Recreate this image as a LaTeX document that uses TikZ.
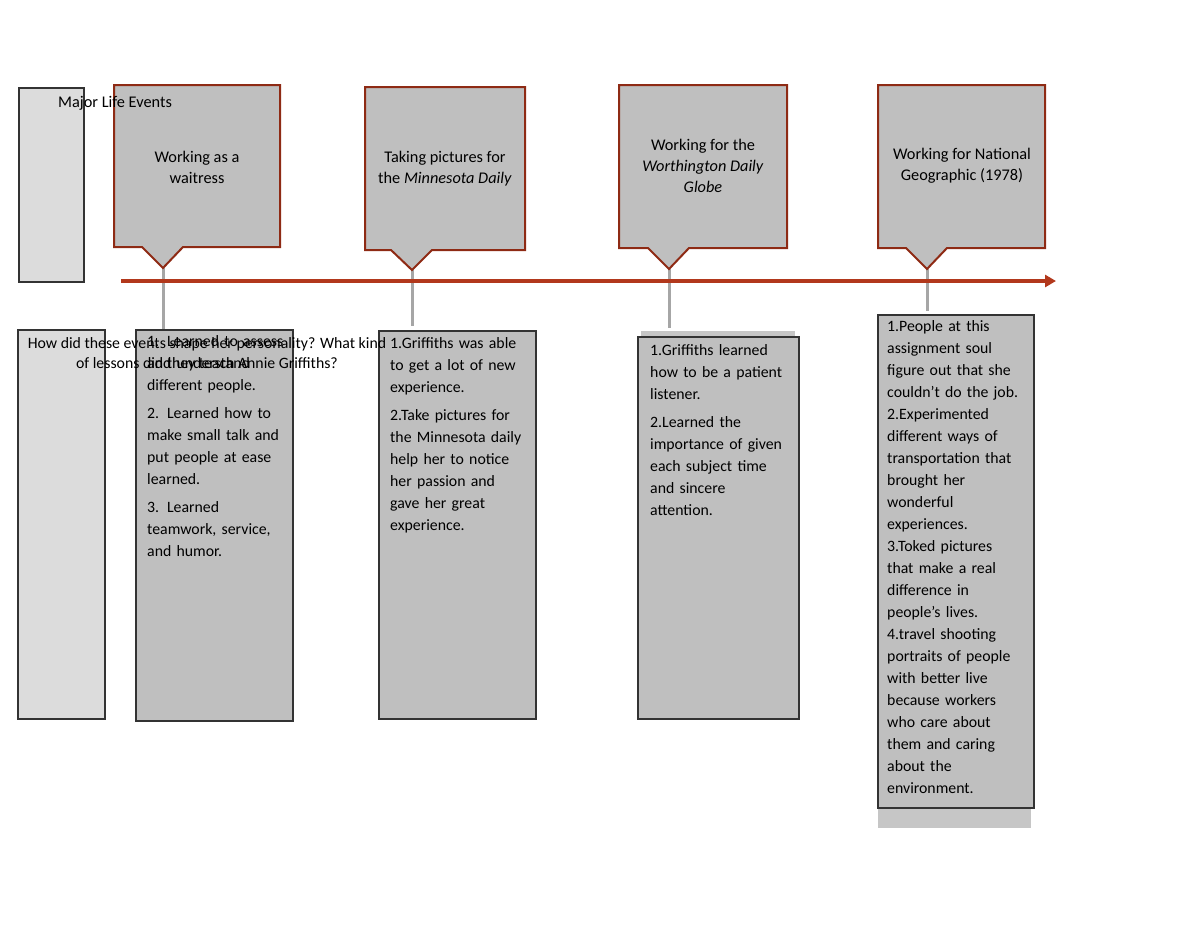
\documentclass[tikz,border=0pt]{standalone}
\usepackage{fontspec}
\setmainfont{Carlito}
\usetikzlibrary{arrows.meta}
\definecolor{callfill}{HTML}{BFBFBF}
\definecolor{callline}{HTML}{8E2A14}
\definecolor{axis}{HTML}{B2381C}
\definecolor{lightbox}{HTML}{DCDCDC}
\definecolor{stem}{HTML}{A6A6A6}
\begin{document}
\begin{tikzpicture}[x=1pt,y=-1pt,
  callout/.style={fill=callfill,draw=callline,line width=2pt,line join=miter},
  bodybox/.style={fill=callfill,draw=black!80,line width=1.3pt},
  sidebox/.style={fill=lightbox,draw=black!80,line width=1.3pt},
  stemline/.style={draw=stem,line width=3pt},
  ctitle/.style={align=center,font=\fontsize{16.3}{21}\selectfont,inner sep=0pt},
  btext/.style={align=left,anchor=north west,text width=150pt,font=\fontsize{15.8}{22}\selectfont,inner sep=0pt}]
\useasboundingbox (0,0) rectangle (1200,927);
% side boxes
\draw[sidebox] (19,88) rectangle (84,282);
\draw[sidebox] (18,330) rectangle (105,719);
% stems
\coordinate (t1) at (163,268); \coordinate (t2) at (412,270);
\coordinate (t3) at (669,269); \coordinate (t4) at (927,269);
\coordinate (s1) at (163,330); \coordinate (s2) at (412,326);
\coordinate (s3) at (669,328); \coordinate (s4) at (927,311);
\draw[stemline] (t1)--(s1); \draw[stemline] (t2)--(s2);
\draw[stemline] (t3)--(s3); \draw[stemline] (t4)--(s4);
% callouts
\draw[callout] (114,85)--(280,85)--(280,247)--(183,247)--(t1)--(142,247)--(114,247)--cycle;
\draw[callout] (365,87)--(525,87)--(525,250)--(432,250)--(t2)--(391,250)--(365,250)--cycle;
\draw[callout] (619,85)--(787,85)--(787,248)--(689,248)--(t3)--(648,248)--(619,248)--cycle;
\draw[callout] (878,85)--(1045,85)--(1045,248)--(947,248)--(t4)--(906,248)--(878,248)--cycle;
% axis
\coordinate (a0) at (121,281); \coordinate (a1) at (1056,281);
\draw[axis,line width=4pt,-{Triangle[length=11pt,width=12pt]}] (a0)--(a1);
% bottom boxes
\draw[bodybox] (136,330) rectangle (293,721);
\draw[bodybox] (379,331) rectangle (536,719);
\fill[lightbox!90!black] (641,331) rectangle (795,337);
\draw[bodybox] (638,337) rectangle (799,719);
\fill[lightbox!90!black] (878,808) rectangle (1031,828);
\draw[bodybox] (878,315) rectangle (1034,808);
% titles
\node[anchor=west,font=\fontsize{16.3}{17}\selectfont,inner sep=0pt] (mle) at (58,103) {Major Life Events};
\node[ctitle] (c1) at (197,167) {Working as a\\waitress};
\node[ctitle] (c2) at (445,169) {Taking pictures for\\the \textit{Minnesota Daily}};
\node[ctitle] (c3) at (703,166) {Working for the\\\textit{Worthington Daily}\\\textit{Globe}};
\node[ctitle] (c4) at (962,166) {Working for National\\Geographic (1978)};
% body texts
\node[btext] (b1) at (147,335) {1. Learned to assess\\and understand\\different people.\\[6pt]2. Learned how to\\make small talk and\\put people at ease\\learned.\\[6pt]3. Learned\\teamwork, service,\\and humor.};
\node[ctitle,font=\fontsize{15.8}{20}\selectfont] (q) at (207,354) {How did these events shape her personality? What kind\\of lessons did they teach Annie Griffiths?};
\node[btext] (b2) at (390,337) {1.Griffiths was able\\to get a lot of new\\experience.\\[6pt]2.Take pictures for\\the Minnesota daily\\help her to notice\\her passion and\\gave her great\\experience.};
\node[btext] (b3) at (650,344) {1.Griffiths learned\\how to be a patient\\listener.\\[6pt]2.Learned the\\importance of given\\each subject time\\and sincere\\attention.};
\node[btext] (b4) at (887,320) {1.People at this\\assignment soul\\figure out that she\\couldn’t do the job.\\2.Experimented\\different ways of\\transportation that\\brought her\\wonderful\\experiences.\\3.Toked pictures\\that make a real\\difference in\\people’s lives.\\4.travel shooting\\portraits of people\\with better live\\because workers\\who care about\\them and caring\\about the\\environment.};
\end{tikzpicture}
\end{document}
